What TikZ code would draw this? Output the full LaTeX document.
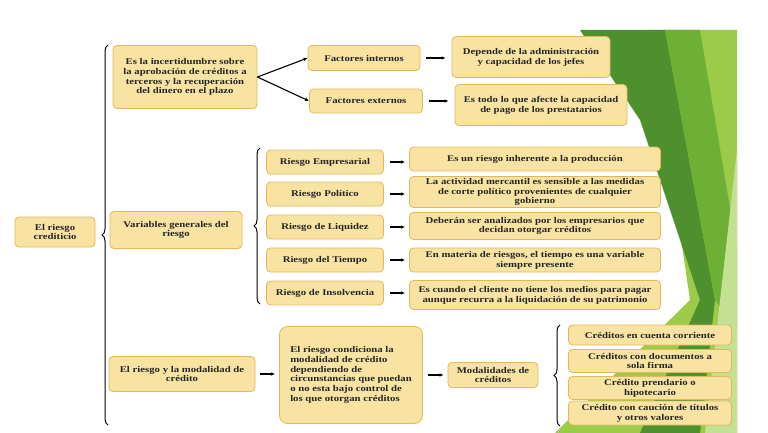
\documentclass[tikz,border=0pt]{standalone}
\usepackage{fontspec}
\setmainfont{Liberation Serif}
\newfontfamily\widefont{Liberation Serif}[FakeStretch=1.22]
\usetikzlibrary{decorations.pathreplacing,arrows.meta}
\definecolor{boxfill}{HTML}{F8E3A3}
\definecolor{boxedge}{HTML}{E2B95A}
\definecolor{gdark}{HTML}{4E8F2E}
\definecolor{gmid}{HTML}{6EAF36}
\definecolor{glight}{HTML}{9CCB4A}
\tikzset{
 bx/.style={draw=boxedge,line width=0.8pt,fill=boxfill,rounded corners=4pt,align=center,inner sep=1pt,
   font=\widefont\fontsize{8.8}{9.8}\selectfont\bfseries,text=black!85},
 arr/.style={-{Latex[length=4pt,width=3.5pt]},line width=1.1pt},
 brc/.style={decorate,decoration={brace,amplitude=6pt},line width=1pt}
}
\begin{document}
\begin{tikzpicture}[x=1pt,y=-1pt]
\useasboundingbox (0,0) rectangle (768,433);
\fill[white] (0,0) rectangle (768,433);
% green background
\fill[glight] (650,30) -- (737,30) -- (737,433) -- (555,433) -- (690,300) -- cycle;
\fill[gdark] (580,30) -- (665,30) -- (715,300) -- (700,433) -- (640,433) -- (700,300) -- (640,120) -- cycle;
\fill[gmid] (665,30) -- (700,30) -- (737,250) -- (737,330) -- (715,300) -- cycle;
\fill[glight!60!white] (737,150) -- (737,433) -- (705,433) -- cycle;
% nodes
\node[bx,minimum width=80,minimum height=30] (root) at (55,232) {El riesgo\\crediticio};
\node[bx,minimum width=144,minimum height=63] (a) at (185,77) {Es la incertidumbre sobre\\la aprobación de créditos a\\terceros y la recuperación\\del dinero en el plazo};
\node[bx,minimum width=112,minimum height=25] (fi) at (364,58) {Factores internos};
\node[bx,minimum width=113,minimum height=24] (fe) at (366,101) {Factores externos};
\node[bx,minimum width=158,minimum height=41] (di) at (531,57) {Depende de la administración\\y capacidad de los jefes};
\node[bx,minimum width=172,minimum height=41] (de) at (541,105) {Es todo lo que afecte la capacidad\\de pago de los prestatarios};
\node[bx,minimum width=132,minimum height=37] (v) at (176,230) {Variables generales del\\riesgo};
\foreach \n/\y/\t in {r1/162/Riesgo Empresarial,r2/194/Riesgo Político,r3/227/Riesgo de Liquidez,r4/260/Riesgo del Tiempo,r5/293/Riesgo de Insolvencia}
  \node[bx,minimum width=117,minimum height=24] (\n) at (325,\y) {\t};
\node[bx,minimum width=251,minimum height=24] (d1) at (535,159) {Es un riesgo inherente a la producción};
\node[bx,minimum width=251,minimum height=31] (d2) at (535,192) {La actividad mercantil es sensible a las medidas\\de corte político provenientes de cualquier\\gobierno};
\node[bx,minimum width=251,minimum height=27] (d3) at (535,226) {Deberán ser analizados por los empresarios que\\decidan otorgar créditos};
\node[bx,minimum width=251,minimum height=24] (d4) at (535,260) {En materia de riesgos, el tiempo es una variable\\siempre presente};
\node[bx,minimum width=251,minimum height=29] (d5) at (535,295) {Es cuando el cliente no tiene los medios para pagar\\aunque recurra a la liquidación de su patrimonio};
\node[bx,minimum width=146,minimum height=35] (m) at (182,374) {El riesgo y la modalidad de\\crédito};
\node[bx,minimum width=143,minimum height=97,align=left,rounded corners=8pt] (c) at (351,375) {El riesgo condiciona la\\modalidad de crédito\\dependiendo de\\circunstancias que puedan\\o no esta bajo control de\\los que otorgan créditos};
\node[bx,minimum width=90,minimum height=25] (mo) at (493,375) {Modalidades de\\créditos};
\node[bx,minimum width=163,minimum height=20] (k1) at (650,335) {Créditos en cuenta corriente};
\node[bx,minimum width=163,minimum height=23] (k2) at (650,361) {Créditos con documentos a\\sola firma};
\node[bx,minimum width=163,minimum height=23] (k3) at (650,388) {Crédito prendario o\\hipotecario};
\node[bx,minimum width=163,minimum height=24] (k4) at (650,413) {Crédito con caución de títulos\\y otros valores};
% braces
\coordinate (b1t) at (108,45); \coordinate (b1b) at (108,425);
\draw[brc] (b1b) -- (b1t);
\coordinate (b2t) at (260,148); \coordinate (b2b) at (260,304);
\draw[brc] (b2b) -- (b2t);
\coordinate (b3t) at (560,325); \coordinate (b3b) at (560,426);
\draw[brc] (b3b) -- (b3t);
% arrows
\draw[arr] (a.east) -- (fi.west);
\draw[arr] (a.east) -- (fe.west);
\draw[arr] ([xshift=6pt]fi.east) -- ([xshift=-6pt]di.west|-fi.east);
\draw[arr] ([xshift=6pt]fe.east) -- ([xshift=-6pt]de.west|-fe.east);
\foreach \i in {1,...,5} \draw[arr] ([xshift=6pt]r\i.east) -- ([xshift=-4pt]d\i.west|-r\i.east);
\draw[arr] ([xshift=5pt]m.east) -- ([xshift=-4pt]c.west|-m.east);
\draw[arr] ([xshift=5pt]c.east|-mo.west) -- ([xshift=-4pt]mo.west);
\end{tikzpicture}
\end{document}
